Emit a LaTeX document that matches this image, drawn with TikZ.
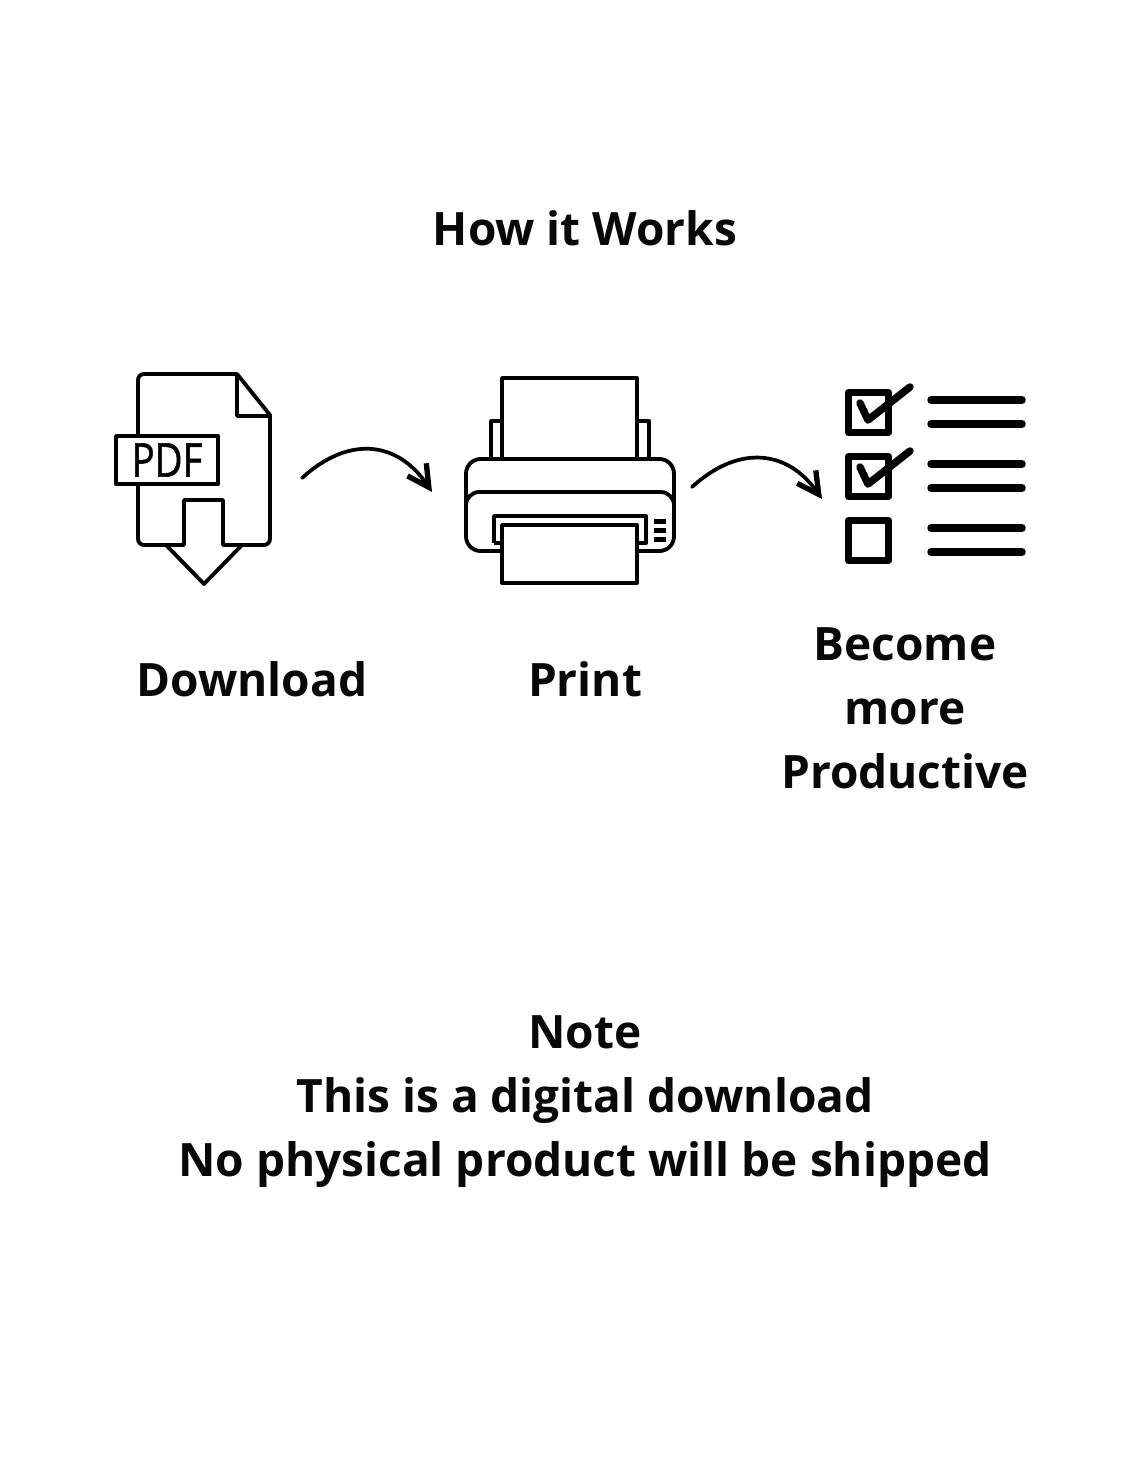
\documentclass[tikz,border=0pt]{standalone}
\usepackage{fontspec}
\setmainfont{Open Sans}
\newfontfamily\pdffont[FakeBold=1.2]{Open Sans}
\usetikzlibrary{arrows.meta}
\tikzset{
  caption/.style={anchor=base, inner sep=0pt, font=\fontsize{34.5pt}{41pt}\selectfont\bfseries, text=black!97},
  icon/.style={draw=black, line width=2.9pt, line join=round},
  thick icon/.style={draw=black, line width=5.6pt, line join=round, line cap=round},
  curvearrow/.style={draw=black, line width=2.8pt, line cap=round, -{Straight Barb[length=16pt,width=17pt,line width=4pt]}},
}
\begin{document}
\begin{tikzpicture}[x=0.75pt,y=-0.75pt]
\useasboundingbox[fill=white] (0,0) rectangle (1140,1476);
\node[caption] (title) at (585,246){How it Works};
% pdf file
\draw[icon] (237,374) -- (144,374) to[out=180,in=90] (138,380) -- (138,539) to[out=-90,in=180] (144,545) -- (184,545) -- (184,500) -- (223,500) -- (223,545) -- (264,545) to[out=0,in=-90] (270,539) -- (270,415) -- (237,374) -- (237,416) -- (270,416);
\draw[icon] (167,546) -- (204,584) -- (241,546);
\draw[icon, fill=white] (116,436) rectangle (218,484);
\node[inner sep=0pt, xscale=0.82, font=\fontsize{35pt}{35pt}\pdffont, text=black] (pdf) at (167,460){PDF};
% printer
\draw[icon] (491,459) -- (491,421) -- (502,421);
\draw[icon] (649,459) -- (649,421) -- (637,421);
\draw[icon] (502,459) -- (502,378) -- (637,378) -- (637,459);
\draw[icon, rounded corners=11pt] (466,459) rectangle (674,551);
\draw[icon, rounded corners=10pt] (466,512) -- (466,492) -- (674,492) -- (674,512);
\draw[icon] (494,543) -- (494,516) -- (646,516) -- (646,543) -- (637,543);
\draw[icon] (494,543) -- (502,543);
\draw[icon, fill=white] (502,525) rectangle (637,583);
\fill[black] (654,519) rectangle (666,524);
\fill[black] (654,528) rectangle (666,533);
\fill[black] (654,537) rectangle (666,542);
% checklist
\draw[thick icon, line cap=butt] (848.5,392.5) rectangle (888.5,432.5);
\draw[thick icon] (860,403) -- (868,420) -- (910,387);
\draw[thick icon] (931,400) -- (1022,400);
\draw[thick icon] (931,424) -- (1022,424);
\draw[thick icon, line cap=butt] (848.5,456.5) rectangle (888.5,496.5);
\draw[thick icon] (860,467) -- (868,484) -- (910,451);
\draw[thick icon] (931,464) -- (1022,464);
\draw[thick icon] (931,488) -- (1022,488);
\draw[thick icon, line cap=butt] (848.5,520.5) rectangle (888.5,560.5);
\draw[thick icon] (931,528) -- (1022,528);
\draw[thick icon] (931,552) -- (1022,552);
% arrows
\coordinate (filestart) at (302,478);
\coordinate (printend) at (432,492);
\coordinate (printstart) at (692,487);
\coordinate (listend) at (822,499);
\draw[curvearrow] (filestart) .. controls (348,436) and (397,440) .. (printend);
\draw[curvearrow] (printstart) .. controls (738,445) and (787,449) .. (listend);
% captions
\node[caption] (download) at (252,696){Download};
\node[caption] (print) at (585,696){Print};
\node[caption] (become) at (905,660){Become};
\node[caption] (more) at (905,724){more};
\node[caption] (productive) at (905,788){Productive};
\node[caption] (note) at (585,1048){Note};
\node[caption] (digital) at (585,1112){This is a digital download};
\node[caption] (shipped) at (585,1176){No physical product will be shipped};
\end{tikzpicture}
\end{document}
